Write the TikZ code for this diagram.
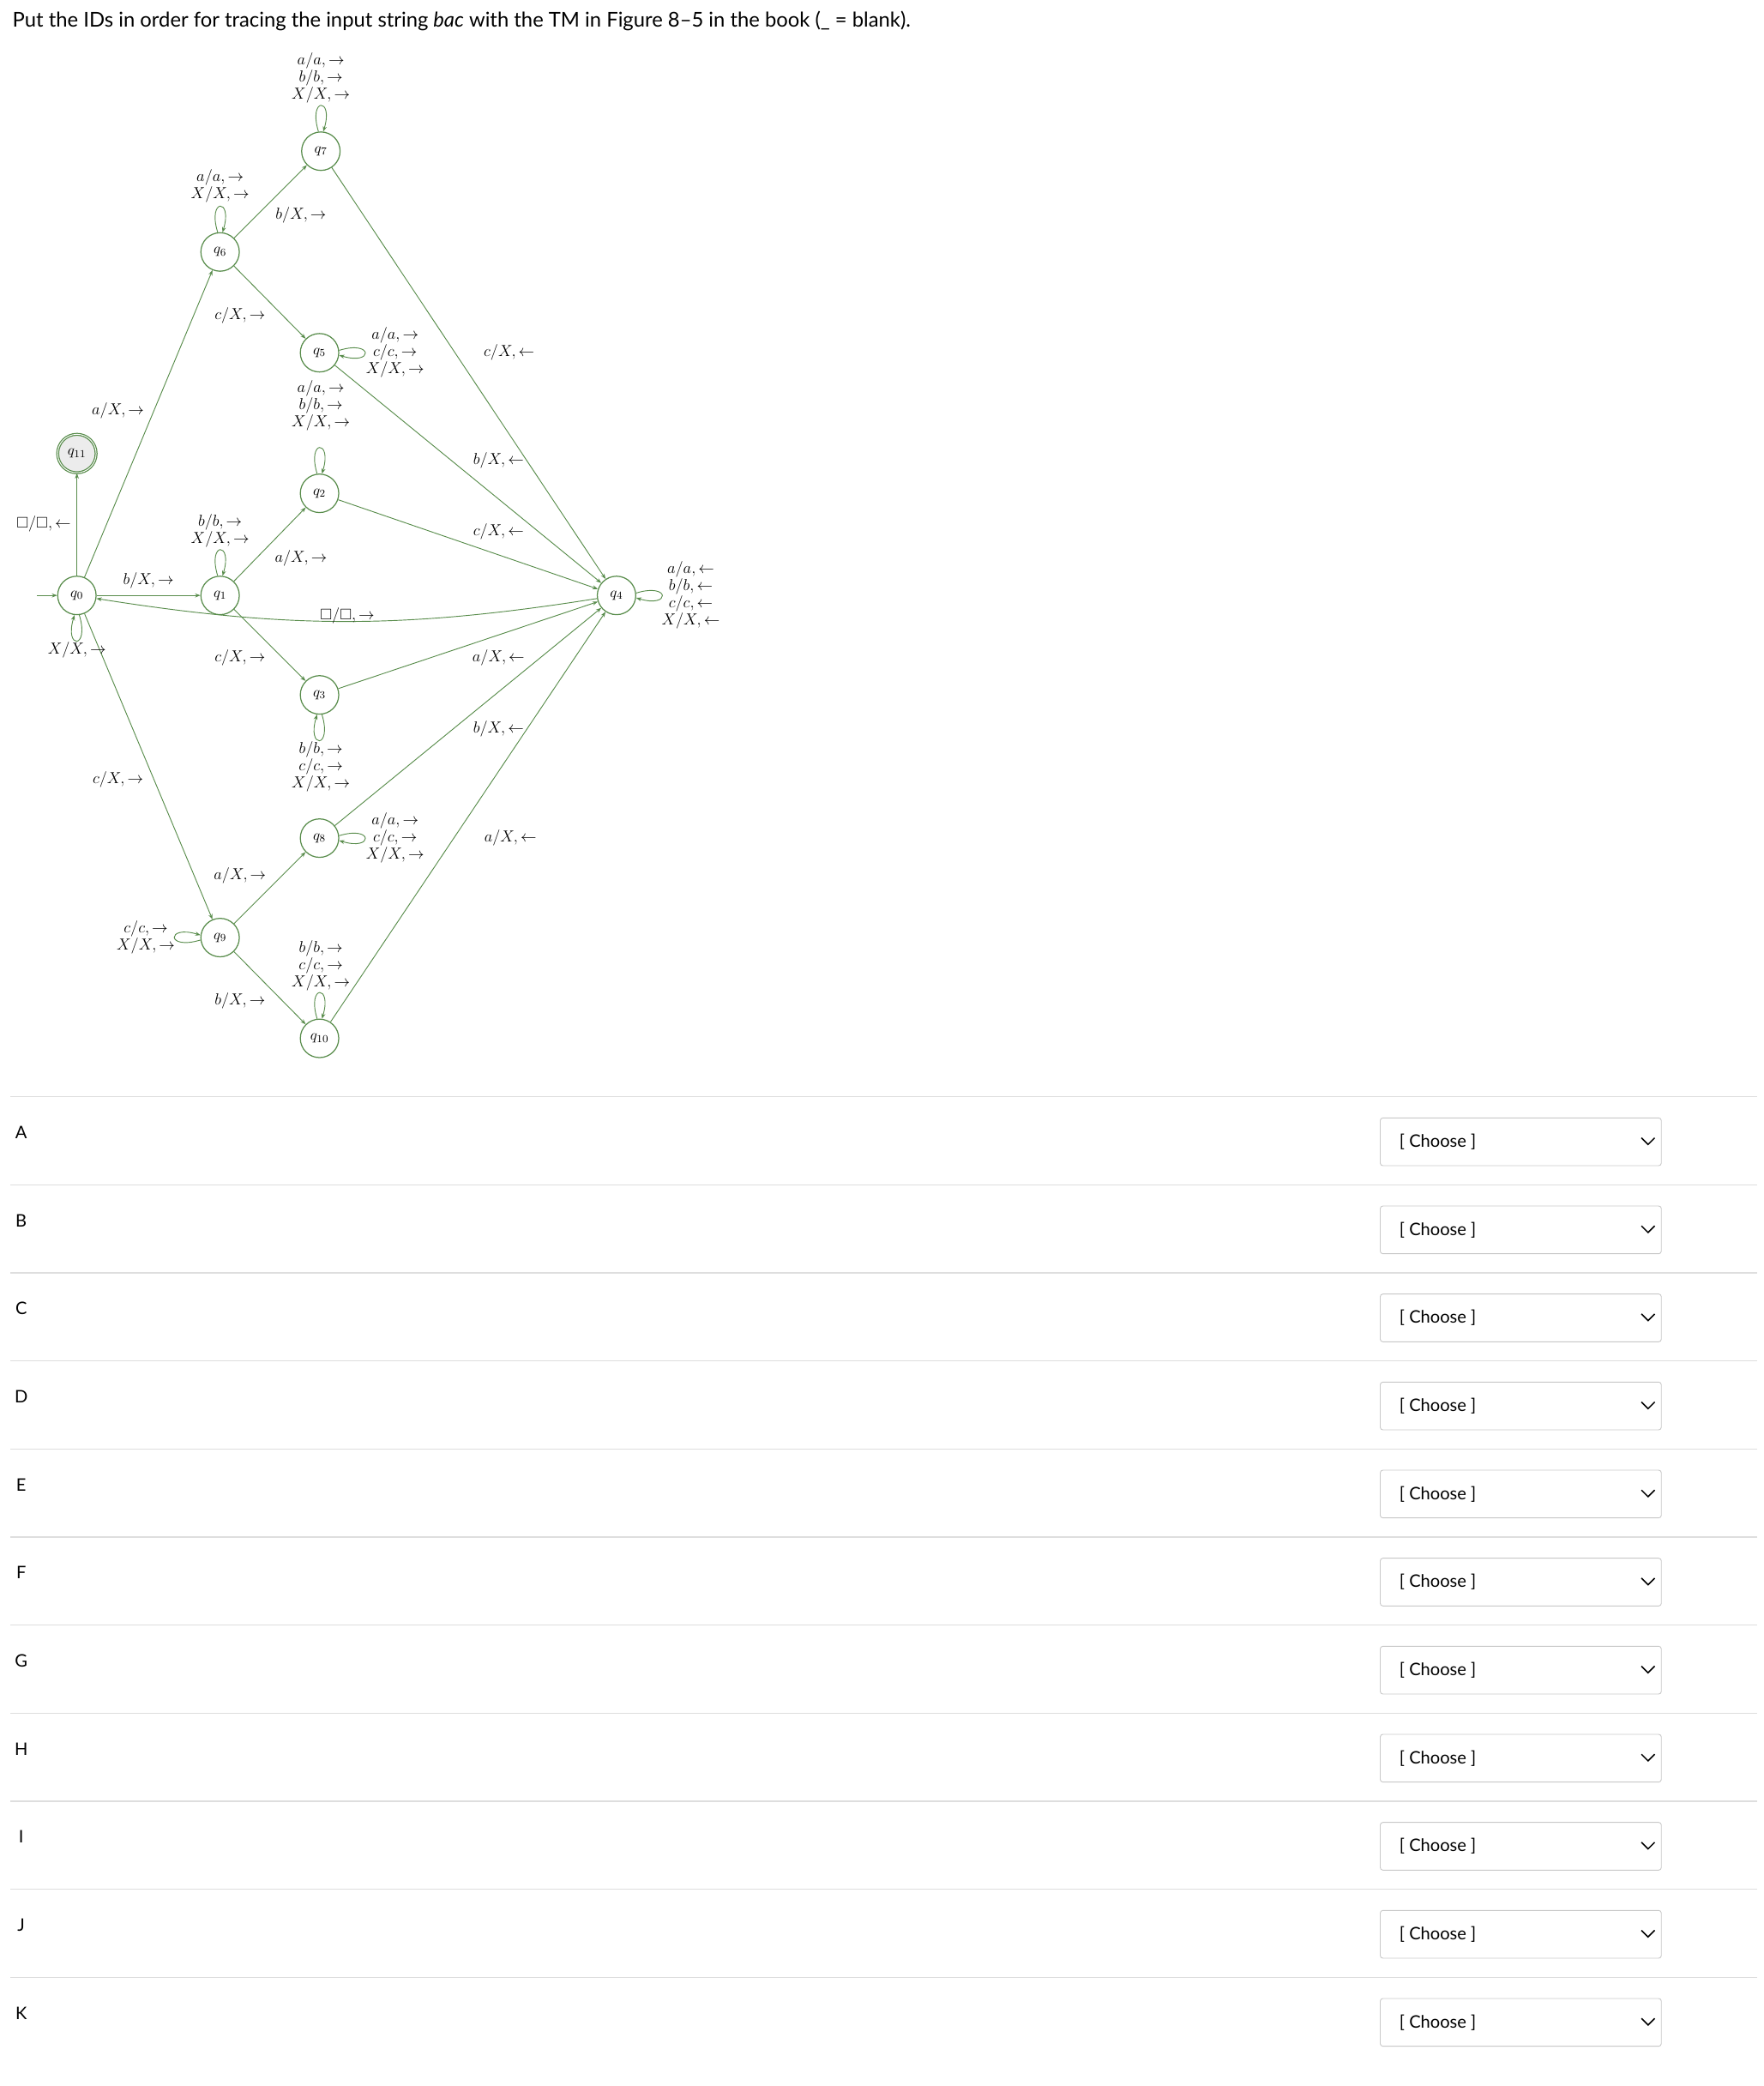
\documentclass[tikz,border=0pt]{standalone}
\usepackage{amssymb}
\usepackage{fontspec}
\setsansfont{Lato}
\usetikzlibrary{arrows.meta}
\definecolor{tmg}{RGB}{88,140,75}
\definecolor{rule}{RGB}{222,222,222}
\definecolor{boxb}{RGB}{200,200,200}
\begin{document}
\begin{tikzpicture}[x=1pt,y=-1pt,
 st/.style={circle,draw=tmg,line width=0.8pt,minimum size=29pt,inner sep=0pt,font=\fontsize{11}{12}\selectfont},
 tr/.style={draw=tmg,line width=0.6pt,-{Stealth[length=4pt,width=3pt]}},
 lb/.style={font=\fontsize{11.5}{13}\selectfont,align=center},
 sel/.style={draw=boxb,rounded corners=2pt,minimum width=212pt,minimum height=36pt,line width=0.6pt},
 lt/.style={font=\sffamily\fontsize{13}{15}\selectfont}]
\useasboundingbox (0,0) rectangle (1330,1573);
\node[font=\sffamily\fontsize{15.4}{18}\selectfont,anchor=west] (title) at (6,16) {Put the IDs in order for tracing the input string \textit{bac} with the TM in Figure 8--5 in the book (\_ = blank).};
\node[st] (q7) at (242,114) {$q_7$};
\node[st] (q6) at (166,190) {$q_6$};
\node[st] (q5) at (241,266) {$q_5$};
\node[st] (q2) at (241,372) {$q_2$};
\node[st,double,fill=gray!15] (q11) at (58,342) {$q_{11}$};
\node[st] (q0) at (58,449) {$q_0$};
\node[st] (q1) at (166,449) {$q_1$};
\node[st] (q4) at (465,449) {$q_4$};
\node[st] (q3) at (241,524) {$q_3$};
\node[st] (q8) at (241,632) {$q_8$};
\node[st] (q9) at (166,707) {$q_9$};
\node[st] (q10) at (241,783) {$q_{10}$};
\coordinate (s0) at (28,449);
\draw[tr] (s0) -- (q0);
\draw[tr] (q0) -- (q11);
\draw[tr] (q0) -- (q6);
\draw[tr] (q0) -- (q1);
\draw[tr] (q0) -- (q9);
\draw[tr] (q1) -- (q2);
\draw[tr] (q1) -- (q3);
\draw[tr] (q6) -- (q7);
\draw[tr] (q6) -- (q5);
\draw[tr] (q7) -- (q4);
\draw[tr] (q5) -- (q4);
\draw[tr] (q2) -- (q4);
\draw[tr] (q3) -- (q4);
\draw[tr] (q8) -- (q4);
\draw[tr] (q10) -- (q4);
\draw[tr] (q9) -- (q8);
\draw[tr] (q9) -- (q10);
\draw[tr] (q4) to[bend left=9] (q0);
\foreach \n in {q1,q6,q7,q2,q10}{
  \draw[tr] (\n.97) .. controls +(-8,-26) and +(8,-26) .. (\n.83);
}
\draw[tr] (q0.-83) .. controls +(8,26) and +(-8,26) .. (q0.-97);
\draw[tr] (q3.-83) .. controls +(8,26) and +(-8,26) .. (q3.-97);
\foreach \n in {q5,q8,q4}{
  \draw[tr] (\n.7) .. controls +(26,-8) and +(26,8) .. (\n.-7);
}
\draw[tr] (q9.187) .. controls +(-26,8) and +(-26,-8) .. (q9.173);
\node[lb] (l1) at (33,395) {$\square/\square,\leftarrow$};
\node[lb] (l2) at (89,310) {$a/X,\rightarrow$};
\node[lb] (l3) at (58,490) {$X/X,\rightarrow$};
\node[lb] (l4) at (112,438) {$b/X,\rightarrow$};
\node[lb] (l5) at (89,588) {$c/X,\rightarrow$};
\node[lb] (l6) at (166,400) {$b/b,\rightarrow$\\$X/X,\rightarrow$};
\node[lb] (l7) at (227,421) {$a/X,\rightarrow$};
\node[lb] (l8) at (181,496) {$c/X,\rightarrow$};
\node[lb] (l9) at (166,140) {$a/a,\rightarrow$\\$X/X,\rightarrow$};
\node[lb] (l10) at (227,162) {$b/X,\rightarrow$};
\node[lb] (l11) at (181,238) {$c/X,\rightarrow$};
\node[lb] (l12) at (242,59) {$a/a,\rightarrow$\\$b/b,\rightarrow$\\$X/X,\rightarrow$};
\node[lb] (l13) at (384,266) {$c/X,\leftarrow$};
\node[lb] (l14) at (298,266) {$a/a,\rightarrow$\\$c/c,\rightarrow$\\$X/X,\rightarrow$};
\node[lb] (l15) at (376,347) {$b/X,\leftarrow$};
\node[lb] (l16) at (242,306) {$a/a,\rightarrow$\\$b/b,\rightarrow$\\$X/X,\rightarrow$};
\node[lb] (l17) at (376,401) {$c/X,\leftarrow$};
\node[lb] (l18) at (262,464) {$\square/\square,\rightarrow$};
\node[lb] (l19) at (376,496) {$a/X,\leftarrow$};
\node[lb] (l20) at (242,578) {$b/b,\rightarrow$\\$c/c,\rightarrow$\\$X/X,\rightarrow$};
\node[lb] (l21) at (376,550) {$b/X,\leftarrow$};
\node[lb] (l22) at (298,632) {$a/a,\rightarrow$\\$c/c,\rightarrow$\\$X/X,\rightarrow$};
\node[lb] (l23) at (181,660) {$a/X,\rightarrow$};
\node[lb] (l24) at (110,707) {$c/c,\rightarrow$\\$X/X,\rightarrow$};
\node[lb] (l25) at (181,755) {$b/X,\rightarrow$};
\node[lb] (l26) at (242,728) {$b/b,\rightarrow$\\$c/c,\rightarrow$\\$X/X,\rightarrow$};
\node[lb] (l27) at (385,632) {$a/X,\leftarrow$};
\node[lb] (l28) at (521,449) {$a/a,\leftarrow$\\$b/b,\leftarrow$\\$c/c,\leftarrow$\\$X/X,\leftarrow$};
\foreach \L [count=\i from 0] in {A,B,C,D,E,F,G,H,I,J,K} {
  \pgfmathsetmacro{\yy}{827+66.4*\i}
  \draw[rule,line width=0.8pt] (8,\yy) -- (1325,\yy);
  \node[lt] (let\L) at (16,\yy+27) {\L};
  \node[sel] (box\L) at (1147,\yy+34) {};
  \node[lt,anchor=west] (ch\L) at (1052,\yy+34) {[ Choose ]};
  \draw[line width=1pt] (1238,\yy+31) -- (1243,\yy+36) -- (1248,\yy+31);
}
\end{tikzpicture}
\end{document}
